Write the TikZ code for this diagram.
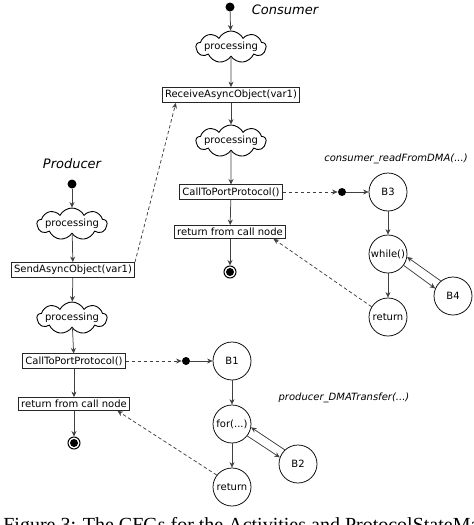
\documentclass[tikz,border=0pt]{standalone}
\usepackage{fontspec}
\setmainfont{DejaVu Sans}
\newfontfamily\capfont{Liberation Serif}
\usetikzlibrary{positioning, calc, shapes.symbols, arrows.meta}

\begin{document}
\begin{tikzpicture}[x=1pt, y=-1pt]
		\tikzstyle{every path}=[line width=0.75pt]
		
		\tikzstyle{flow}=[draw=black!75, -{Stealth[length=5.5pt,width=5pt,inset=1.8pt]}]
		\tikzstyle{call}=[flow, dash pattern=on 3.5pt off 2.5pt]
		\tikzstyle{act}=[draw=black!85, line width=0.9pt, rectangle, inner sep=2.6pt, font=\fontsize{10}{12}\selectfont]
		\tikzstyle{proc}=[cloud, draw, line width=0.9pt, cloud puffs=9, cloud puff arc=125, aspect=2.2,
		minimum width=70pt, minimum height=32pt, inner sep=0pt]
		\tikzstyle{blk}=[circle, draw, minimum size=38pt, inner sep=0pt, font=\fontsize{10}{12}\selectfont]
		\tikzstyle{init}=[circle, fill, minimum size=9pt, inner sep=0pt]
		\tikzstyle{final}=[circle, draw, line width=1pt, minimum size=12pt, inner sep=0pt,
		path picture={\fill (path picture bounding box.center) circle (4pt);}]
		\tikzstyle{title}=[font=\fontsize{13}{15}\selectfont\itshape]
		\tikzstyle{fname}=[font=\fontsize{10}{12}\selectfont\itshape]
		
		\useasboundingbox (0,0) rectangle (474,525);
		
		%% Consumer
		\node [title] (ctitle) at (285,10) {Consumer};
		\node [init] (cstart) at (230,7) {};
		\node [proc, label={[name=cproc1t]center:processing}] (cproc1) at (231,47) {};
		\node [act] (crecv) at (231,95) {ReceiveAsyncObject(var1)};
		\node [proc, label={[name=cproc2t]center:processing}] (cproc2) at (231,141) {};
		\node [act] (ccall) at (231,192) {CallToPortProtocol()};
		\node [act] (cret) at (230,232) {return from call node};
		\node [final] (cend) at (230,272) {};
		
		%% Producer
		\node [title] (ptitle) at (72,164) {Producer};
		\node [init] (pstart) at (72,184) {};
		\node [proc, label={[name=pproc1t]center:processing}] (pproc1) at (72,224) {};
		\node [act] (psend) at (73,270) {SendAsyncObject(var1)};
		\node [proc, label={[name=pproc2t]center:processing}] (pproc2) at (72,318) {};
		\node [act] (pcall) at (74,361) {CallToPortProtocol()};
		\node [act] (pret) at (74,404) {return from call node};
		\node [final] (pend) at (74,443) {};
		
		%% consumer_readFromDMA
		\node [fname] (cfname) at (396,159) {consumer\_readFromDMA(...)};
		\node [init, minimum size=8pt] (cdot) at (342,192) {};
		\node [blk] (B3) at (388,192) {B3};
		\node [blk] (cwhile) at (388,254) {while()};
		\node [blk] (B4) at (453,296) {B4};
		\node [blk] (cdret) at (388,317) {return};
		
		%% producer_DMATransfer
		\node [fname] (pfname) at (344,398) {producer\_DMATransfer(...)};
		\node [init, minimum size=8pt] (pdot) at (186,361) {};
		\node [blk] (B1) at (232,361) {B1};
		\node [blk] (pfor) at (232,424) {for(...)};
		\node [blk] (B2) at (298,464) {B2};
		\node [blk] (pdret) at (232,487) {return};
		
		% control flow
		\foreach \a/\b in {cstart/cproc1, cproc1/crecv, crecv/cproc2, cproc2/ccall, ccall/cret, cret/cend,
			pstart/pproc1, pproc1/psend, psend/pproc2, pproc2/pcall, pcall/pret, pret/pend,
			cdot/B3, B3/cwhile, cwhile/cdret, pdot/B1, B1/pfor, pfor/pdret}
		\draw [flow] (\a) -- (\b);
		
		% loops
		\draw [flow] (pfor.-38) -- (B2.160);
		\draw [flow] (B2.133) -- (pfor.-10);
		\draw [flow] (cwhile.-36) -- (B4.157);
		\draw [flow] (B4.129) -- (cwhile.-9);
		
		% calls and returns
		\draw [call] (psend.north east) -- ($(crecv.south west)!0.1!(crecv.south east)$);
		\draw [call] (pcall.east) -- (pdot);
		\draw [call] (ccall.east) -- (cdot);
		\draw [call] (pdret.142) -- ($(pret.south west)!0.89!(pret.south east)$);
		\draw [call] (cdret.148) -- ($(cret.south west)!0.89!(cret.south east)$);
		
		\node [anchor=base west, inner sep=0pt, font=\capfont\fontsize{20}{24}\selectfont] (caption) at (3,531)
		{Figure 3: The CFGs for the Activities and ProtocolStateMachines};
	\end{tikzpicture}
\end{document}
